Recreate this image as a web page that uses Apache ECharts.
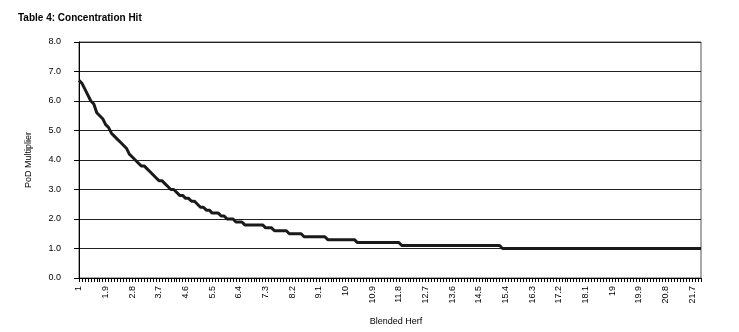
<!DOCTYPE html>
<html>
<head>
<meta charset="utf-8">
<script src="https://cdn.jsdelivr.net/npm/echarts@6/dist/echarts.min.js"></script>
<style>
  html, body { margin: 0; padding: 0; background: #fff; }
  #chart { width: 739px; height: 332px; }
</style>
</head>
<body>
<div id="chart"></div>
<script>
// Blended Herfindahl index, 1.0 to 22.0 in steps of 0.1
const herfCategories = [];
for (let i = 10; i <= 220; i++) herfCategories.push(String(i / 10));

// PoD multiplier for each Herf category (rounded to 0.1)
const podMultiplier = [
  6.7, 6.6, 6.4, 6.2, 6.0, 5.9, 5.6, 5.5, 5.4, 5.2,   // 1.0 - 1.9
  5.1, 4.9, 4.8, 4.7, 4.6, 4.5, 4.4, 4.2, 4.1, 4.0,   // 2.0 - 2.9
  3.9, 3.8, 3.8, 3.7, 3.6, 3.5, 3.4, 3.3, 3.3, 3.2,   // 3.0 - 3.9
  3.1, 3.0, 3.0, 2.9, 2.8, 2.8, 2.7, 2.7, 2.6, 2.6,   // 4.0 - 4.9
  2.5, 2.4, 2.4, 2.3, 2.3, 2.2, 2.2, 2.2, 2.1, 2.1,   // 5.0 - 5.9
  2.0, 2.0, 2.0, 1.9, 1.9, 1.9, 1.8, 1.8, 1.8, 1.8,   // 6.0 - 6.9
  1.8, 1.8, 1.8, 1.7, 1.7, 1.7, 1.6, 1.6, 1.6, 1.6,   // 7.0 - 7.9
  1.6, 1.5, 1.5, 1.5, 1.5, 1.5, 1.4, 1.4, 1.4, 1.4,   // 8.0 - 8.9
  1.4, 1.4, 1.4, 1.4, 1.3, 1.3, 1.3, 1.3, 1.3, 1.3,   // 9.0 - 9.9
  1.3, 1.3, 1.3, 1.3, 1.2, 1.2, 1.2, 1.2, 1.2, 1.2,   // 10.0 - 10.9
  1.2, 1.2, 1.2, 1.2, 1.2, 1.2, 1.2, 1.2, 1.2, 1.1,   // 11.0 - 11.9
  1.1, 1.1, 1.1, 1.1, 1.1, 1.1, 1.1, 1.1, 1.1, 1.1,   // 12.0 - 12.9
  1.1, 1.1, 1.1, 1.1, 1.1, 1.1, 1.1, 1.1, 1.1, 1.1,   // 13.0 - 13.9
  1.1, 1.1, 1.1, 1.1, 1.1, 1.1, 1.1, 1.1, 1.1, 1.1,   // 14.0 - 14.9
  1.1, 1.1, 1.1, 1.0, 1.0, 1.0, 1.0, 1.0, 1.0, 1.0,   // 15.0 - 15.9
  1.0, 1.0, 1.0, 1.0, 1.0, 1.0, 1.0, 1.0, 1.0, 1.0,   // 16.0 - 16.9
  1.0, 1.0, 1.0, 1.0, 1.0, 1.0, 1.0, 1.0, 1.0, 1.0,   // 17.0 - 17.9
  1.0, 1.0, 1.0, 1.0, 1.0, 1.0, 1.0, 1.0, 1.0, 1.0,   // 18.0 - 18.9
  1.0, 1.0, 1.0, 1.0, 1.0, 1.0, 1.0, 1.0, 1.0, 1.0,   // 19.0 - 19.9
  1.0, 1.0, 1.0, 1.0, 1.0, 1.0, 1.0, 1.0, 1.0, 1.0,   // 20.0 - 20.9
  1.0, 1.0, 1.0, 1.0, 1.0, 1.0, 1.0, 1.0, 1.0, 1.0,   // 21.0 - 21.9
  1.0                                                 // 22.0
];

const FONT = '"Liberation Sans", Arial, sans-serif';

const chart = echarts.init(document.getElementById('chart'), null, { renderer: 'canvas' });
chart.setOption({
  animation: false,
  backgroundColor: '#ffffff',
  title: {
    text: 'Table 4: Concentration Hit',
    left: 13,
    top: 8,
    textStyle: { fontFamily: FONT, fontSize: 10, fontWeight: 'bold', color: '#000' }
  },
  grid: {
    left: 79, right: 38, top: 42, bottom: 54,
    show: true, borderColor: '#555', borderWidth: 1
  },
  xAxis: {
    type: 'category',
    data: herfCategories,
    boundaryGap: false,
    name: 'Blended Herf',
    nameLocation: 'middle',
    nameGap: 39,
    nameTextStyle: { fontFamily: FONT, fontSize: 9, color: '#000', padding: [0, 0, 0, 12] },
    axisLine: { lineStyle: { color: '#000', width: 1 } },
    axisTick: { show: true, interval: 0, length: 4, lineStyle: { color: '#000' } },
    axisLabel: {
      interval: 8, rotate: 90, margin: 8,
      fontFamily: FONT, fontSize: 9, color: '#000'
    },
    splitLine: { show: false }
  },
  yAxis: {
    type: 'value',
    min: 0, max: 8, interval: 1,
    name: 'PoD Multiplier',
    nameLocation: 'middle',
    nameGap: 46,
    nameTextStyle: { fontFamily: FONT, fontSize: 9, color: '#000' },
    axisLine: { show: true, lineStyle: { color: '#000', width: 1 } },
    axisTick: { show: true, length: 5, lineStyle: { color: '#000' } },
    axisLabel: {
      margin: 18, fontFamily: FONT, fontSize: 9, color: '#000',
      formatter: v => v.toFixed(1)
    },
    splitLine: { show: true, lineStyle: { color: '#222', width: 1 } }
  },
  series: [{
    type: 'line',
    data: podMultiplier,
    showSymbol: false,
    symbol: 'none',
    lineStyle: { color: '#1a1a1a', width: 3 },
    z: 3
  }]
});
</script>
</body>
</html>
